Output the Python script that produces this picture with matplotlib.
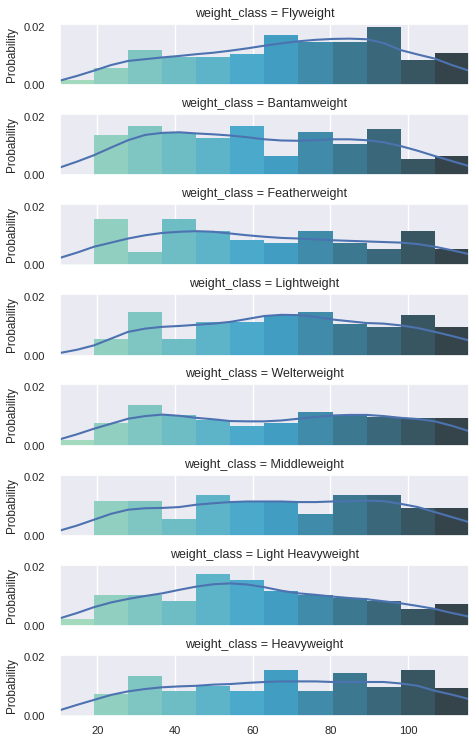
import matplotlib
matplotlib.use("Agg")
import matplotlib.pyplot as plt
import numpy as np
import seaborn as sns

weight_classes = ["Flyweight", "Bantamweight", "Featherweight", "Lightweight",
                  "Welterweight", "Middleweight", "Light Heavyweight", "Heavyweight"]

bin_edges = [10.40, 19.17, 27.94, 36.71, 45.48, 54.25, 63.02,
             71.79, 80.56, 89.33, 98.10, 106.87, 115.64]

# bar heights (x 0.001)
hist_flyweight = [1.8, 5.8, 11.9, 9.5, 9.5, 10.8, 17.0, 14.8, 14.8, 20.0, 8.6, 10.9]
hist_bantamweight = [0.0, 13.6, 16.9, 14.5, 12.8, 16.9, 6.7, 14.7, 10.8, 15.9, 5.7, 6.7]
hist_featherweight = [0.5, 15.9, 4.7, 15.9, 11.7, 8.8, 7.5, 11.7, 7.5, 5.7, 11.7, 5.7]
hist_lightweight = [0.0, 5.6, 14.9, 5.6, 11.6, 11.6, 13.8, 14.9, 10.7, 9.7, 13.9, 9.7]
hist_welterweight = [1.8, 7.7, 13.9, 10.6, 8.9, 6.7, 7.7, 11.6, 10.6, 9.8, 9.5, 9.5]
hist_middleweight = [0.0, 11.8, 11.8, 5.7, 13.8, 11.8, 11.8, 7.6, 13.8, 13.8, 9.5, 9.5]
hist_light_heavy = [2.4, 10.7, 10.7, 8.5, 17.7, 15.5, 11.8, 10.7, 9.5, 8.5, 5.7, 7.5]
hist_heavyweight = [0.5, 7.5, 13.5, 8.4, 10.3, 8.4, 15.7, 8.4, 14.5, 9.8, 15.7, 9.7]

kde_x = [10.40, 14.79, 19.17, 23.56, 27.94, 32.33, 36.71, 41.10, 45.48,
         49.87, 54.25, 58.64, 63.02, 67.41, 71.79, 76.18, 80.56, 84.95,
         89.33, 93.72, 98.10, 102.49, 106.87, 111.26, 115.64]
kde_flyweight = [1.6, 3.2, 5.0, 6.9, 8.3, 8.9, 9.5, 10.0, 10.6, 11.1, 11.8, 12.6, 13.5,
                 14.3, 15.0, 15.5, 15.8, 15.9, 15.7, 14.4, 12.0, 10.5, 9.1, 6.9, 5.0]
kde_bantamweight = [2.7, 4.7, 6.9, 9.5, 12.0, 13.8, 14.5, 14.7, 14.3, 14.0, 13.6, 13.0, 12.3,
                    11.9, 11.8, 12.0, 12.3, 12.3, 12.0, 11.3, 10.0, 8.4, 6.6, 4.9, 3.2]
kde_featherweight = [2.6, 4.4, 6.4, 7.8, 9.2, 10.3, 11.1, 11.5, 11.7, 11.5, 10.9, 10.3, 9.8,
                     9.4, 9.2, 8.9, 8.6, 8.4, 8.2, 8.0, 7.8, 7.3, 6.4, 5.2, 3.9]
kde_lightweight = [0.9, 2.0, 3.5, 5.8, 8.1, 9.2, 9.8, 10.1, 10.5, 10.9, 11.5, 12.5, 13.5,
                   13.9, 13.8, 13.2, 12.3, 11.7, 11.1, 10.9, 10.3, 9.4, 8.1, 6.7, 5.2]
kde_welterweight = [2.2, 3.9, 5.8, 7.5, 9.2, 10.1, 10.6, 10.2, 9.5, 9.0, 8.4, 8.3, 8.3,
                    8.6, 9.2, 9.8, 10.3, 10.5, 10.5, 10.1, 9.5, 9.1, 8.3, 6.8, 5.0]
kde_middleweight = [1.8, 3.5, 5.5, 7.5, 8.9, 9.4, 9.5, 9.8, 10.6, 11.1, 11.5, 11.7, 11.7,
                    11.7, 11.5, 11.5, 11.7, 11.8, 12.0, 11.8, 10.9, 9.8, 8.1, 6.4, 4.7]
kde_light_heavy = [2.6, 4.4, 6.4, 8.0, 9.2, 10.2, 11.1, 12.3, 13.4, 14.2, 14.5, 14.1, 13.2,
                   12.0, 11.1, 10.6, 10.0, 9.5, 9.1, 8.4, 7.7, 6.8, 5.8, 4.4, 3.2]
kde_heavyweight = [2.0, 3.8, 5.5, 7.2, 8.4, 9.2, 9.8, 10.1, 10.3, 10.7, 10.9, 11.3, 11.6,
                   11.8, 11.8, 11.8, 11.6, 11.6, 11.6, 11.6, 11.1, 10.3, 8.6, 7.3, 5.8]

hists = [hist_flyweight, hist_bantamweight, hist_featherweight, hist_lightweight,
         hist_welterweight, hist_middleweight, hist_light_heavy, hist_heavyweight]
kdes = [kde_flyweight, kde_bantamweight, kde_featherweight, kde_lightweight,
        kde_welterweight, kde_middleweight, kde_light_heavy, kde_heavyweight]

sns.set_theme(style="darkgrid")
plt.rcParams["font.family"] = ["Liberation Sans", "DejaVu Sans"]

colors = sns.color_palette("GnBu_d", 12)
edges = np.array(bin_edges)
widths = np.diff(edges)

fig, axes = plt.subplots(8, 1, figsize=(4.74, 7.38), dpi=100, sharex=True, sharey=True)
fig.subplots_adjust(left=0.1266, right=0.989, top=0.9675, bottom=0.0298, hspace=0.47)

for ax, name, h, k in zip(axes, weight_classes, hists, kdes):
    ax.bar(edges[:-1], np.array(h) / 1000, width=widths, align="edge",
           color=colors, linewidth=0)
    ax.plot(kde_x, np.array(k) / 1000, color="#4c72b0", lw=1.5)
    ax.set_title(f"weight_class = {name}", fontsize=9, pad=5)
    ax.set_ylabel("Probability", fontsize=8.5, labelpad=4)
    ax.set_yticks([0.0, 0.02])
    ax.set_yticklabels(["0.00", "0.02"])
    ax.tick_params(axis="y", labelsize=8, pad=4.8)
    ax.tick_params(axis="x", labelsize=8, pad=1.2)
    ax.grid(axis="y", visible=False)

axes[0].set_xlim(edges[0], edges[-1])
axes[0].set_ylim(0, 0.0209)
axes[-1].set_xticks([20, 40, 60, 80, 100])

fig.savefig("out.png", dpi=100)
